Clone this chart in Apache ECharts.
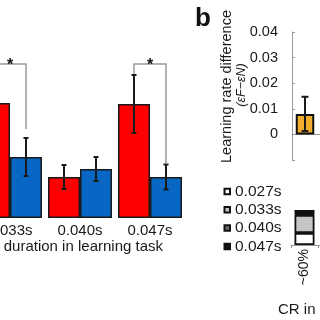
<!DOCTYPE html>
<html>
<head>
<meta charset="utf-8">
<script src="https://cdn.jsdelivr.net/npm/echarts@6/dist/echarts.min.js"></script>
<style>html,body{margin:0;padding:0;background:#fff}#c{width:320px;height:320px}</style>
</head>
<body>
<div id="c"></div>
<script>
// ---- Panel a: learning rate by sound duration ----
const durations = ['0.027s', '0.033s', '0.040s', '0.047s'];
const redValues = [null, 0.115, 0.041, 0.114];
const blueValues = [null, 0.061, 0.049, 0.041];
const redErr = [null, null, 0.012, 0.029];
const blueErr = [null, 0.019, 0.012, 0.0125];
const bracketGroups = [1, 3];
const bracketTop = [0.154, 0.154];
const bracketLeftEnd = [null, 0.144];
const bracketRightEnd = [0.089, 0.055];
const bracketMarks = ['*', '*'];
const xTitleA = 'Sound duration in learning task';

// ---- Panel b (top): learning rate difference ----
const bTopCats = ['all', 'other'];
const bTopValues = [0.008, null];
const bTopErr = [0.0067, null];
const bYTitle = 'Learning rate difference';
const bYSub = '(\u03b5F\u2212\u03b5N)';

// ---- Panel b (bottom): composition by CR ----
const crCats = ['~60%', '~70%'];
const comp027 = [0.343, null];
const comp033 = [0.514, null];
const comp040 = [0.02, null];
const comp047 = [0.123, null];
const crTitle = 'CR in';

const FONT = '"Liberation Sans", Arial, sans-serif';
const TXT = '#1a1a1a';
const chart = echarts.init(document.getElementById('c'), null, {renderer: 'canvas'});

function errRender(offset, cap) {
  return function (params, api) {
    const c = api.value(0), v = api.value(1), e = api.value(2);
    const hi = api.coord([c, v + e]);
    const lo = api.coord([c, v - e]);
    const x = hi[0] + offset;
    const st = {stroke: '#1a1a1a', lineWidth: 2};
    return {type: 'group', children: [
      {type: 'line', shape: {x1: x, y1: hi[1], x2: x, y2: lo[1]}, style: st},
      {type: 'line', shape: {x1: x - cap, y1: hi[1], x2: x + cap, y2: hi[1]}, style: st},
      {type: 'line', shape: {x1: x - cap, y1: lo[1], x2: x + cap, y2: lo[1]}, style: st}
    ]};
  };
}
function errData(vals, errs) {
  const out = [];
  vals.forEach((v, i) => { if (v != null && errs[i] != null) out.push([i, v, errs[i]]); });
  return out;
}
const bracketData = bracketGroups.map((g, i) => [g, bracketTop[i],
  bracketLeftEnd[i] == null ? bracketTop[i] : bracketLeftEnd[i], bracketRightEnd[i], i]);

const barBorder = {borderColor: '#1a1a1a', borderWidth: 1.5};
const compStyle = (col) => ({color: col, borderColor: '#111', borderWidth: 1.8});

chart.setOption({
  animation: false,
  textStyle: {fontFamily: FONT},
  grid: [
    {left: -95, width: 280, top: 18, height: 200, outerBoundsMode: 'none', containLabel: false},
    {left: 292, width: 52, top: 32, height: 128, outerBoundsMode: 'none', containLabel: false},
    {left: 291, width: 54, top: 210, height: 35, outerBoundsMode: 'none', containLabel: false}
  ],
  xAxis: [
    {gridIndex: 0, type: 'category', data: durations, axisLine: {show: false}, axisTick: {show: false},
     axisLabel: {fontSize: 15, color: TXT, margin: 5, fontFamily: FONT}},
    {gridIndex: 1, type: 'category', data: bTopCats, axisLine: {show: true, onZero: true, lineStyle: {color: '#999', width: 1}},
     axisTick: {show: false}, axisLabel: {show: false}},
    {gridIndex: 2, type: 'category', data: crCats, axisLine: {show: true, lineStyle: {color: '#999', width: 1.2}},
     axisTick: {show: true, length: 3, lineStyle: {color: '#999', width: 1.2}},
     axisLabel: {rotate: 90, fontSize: 14, color: TXT, margin: 4, fontFamily: FONT}}
  ],
  yAxis: [
    {gridIndex: 0, type: 'value', min: 0, max: 0.2, show: false},
    {gridIndex: 1, type: 'value', min: -0.01, max: 0.04, interval: 0.01,
     axisLine: {show: true, lineStyle: {color: '#999', width: 1}},
     axisTick: {show: true, inside: true, length: 3, lineStyle: {color: '#999', width: 1}},
     splitLine: {show: false},
     axisLabel: {fontSize: 14.5, color: TXT, margin: 14, fontFamily: FONT,
       formatter: v => v < -1e-9 ? '' : (Math.abs(v) < 1e-9 ? '0' : v.toFixed(2))}},
    {gridIndex: 2, type: 'value', min: 0, max: 1, show: false}
  ],
  legend: {
    orient: 'vertical', left: 223.5, top: 183.5, padding: 0,
    itemWidth: 5.5, itemHeight: 5.5, itemGap: 2.3, itemTextGap: 1.5, icon: 'rect',
    data: ['0.027s', '0.033s', '0.040s', '0.047s'],
    textStyle: {fontSize: 15.5, color: TXT, lineHeight: 16, fontFamily: FONT}
  },
  graphic: [
    {type: 'text', x: 163, y: 247, style: {text: xTitleA, fill: TXT, font: '15px ' + FONT, textAlign: 'right', textVerticalAlign: 'middle'}},
    {type: 'text', x: 203, y: 19, style: {text: 'b', fill: '#111', font: 'bold 26px ' + FONT, textAlign: 'center', textVerticalAlign: 'middle'}},
    {type: 'text', x: 227, y: 86.5, rotation: Math.PI / 2, style: {text: bYTitle, fill: TXT, font: '14.5px ' + FONT, textAlign: 'center', textVerticalAlign: 'middle'}},
    {type: 'text', x: 241.5, y: 85, rotation: Math.PI / 2, style: {text: bYSub, fill: TXT, font: 'italic 12.5px ' + FONT, textAlign: 'center', textVerticalAlign: 'middle'}},
    {type: 'text', x: 278, y: 310, style: {text: crTitle, fill: TXT, font: '15px ' + FONT, textAlign: 'left', textVerticalAlign: 'middle'}}
  ],
  series: [
    {type: 'bar', xAxisIndex: 0, yAxisIndex: 0, data: redValues, barWidth: 32, barGap: '0%',
     itemStyle: Object.assign({color: '#ff0000'}, barBorder)},
    {type: 'bar', xAxisIndex: 0, yAxisIndex: 0, data: blueValues, barWidth: 32, barGap: '0%',
     itemStyle: Object.assign({color: '#0866c4'}, barBorder)},
    {type: 'custom', xAxisIndex: 0, yAxisIndex: 0, renderItem: errRender(-16, 2.5), data: errData(redValues, redErr), z: 5},
    {type: 'custom', xAxisIndex: 0, yAxisIndex: 0, renderItem: errRender(16, 2.5), data: errData(blueValues, blueErr), z: 5},
    {type: 'custom', xAxisIndex: 0, yAxisIndex: 0, z: 5, data: bracketData,
     renderItem: function (params, api) {
       const c = api.value(0);
       const top = api.coord([c, api.value(1)]);
       const le = api.coord([c, api.value(2)]);
       const re = api.coord([c, api.value(3)]);
       const xl = top[0] - 16, xr = top[0] + 16;
       const st = {stroke: '#999', lineWidth: 1.5};
       return {type: 'group', children: [
         {type: 'polyline', shape: {points: [[xl, le[1]], [xl, top[1]], [xr, top[1]], [xr, re[1]]]}, style: Object.assign({fill: null}, st)},
         {type: 'text', x: top[0], y: top[1] + 1.5, style: {text: bracketMarks[api.value(4)], fill: '#111', font: 'bold 16px ' + FONT, textAlign: 'center', textVerticalAlign: 'middle'}}
       ]};
     }},
    {type: 'bar', xAxisIndex: 1, yAxisIndex: 1, data: bTopValues, barWidth: 18.5,
     itemStyle: {color: '#f2ad2c', borderColor: '#111', borderWidth: 2}},
    {type: 'custom', xAxisIndex: 1, yAxisIndex: 1, renderItem: errRender(0, 3.5), data: errData(bTopValues, bTopErr), z: 5},
    {name: '0.027s', type: 'bar', stack: 'cr', xAxisIndex: 2, yAxisIndex: 2, data: comp027, barWidth: 20, itemStyle: compStyle('#ffffff')},
    {name: '0.033s', type: 'bar', stack: 'cr', xAxisIndex: 2, yAxisIndex: 2, data: comp033, barWidth: 20, itemStyle: compStyle('#c4c4c4')},
    {name: '0.040s', type: 'bar', stack: 'cr', xAxisIndex: 2, yAxisIndex: 2, data: comp040, barWidth: 20, itemStyle: compStyle('#6e6e6e')},
    {name: '0.047s', type: 'bar', stack: 'cr', xAxisIndex: 2, yAxisIndex: 2, data: comp047, barWidth: 20, itemStyle: compStyle('#111111')}
  ]
});
</script>
</body>
</html>
